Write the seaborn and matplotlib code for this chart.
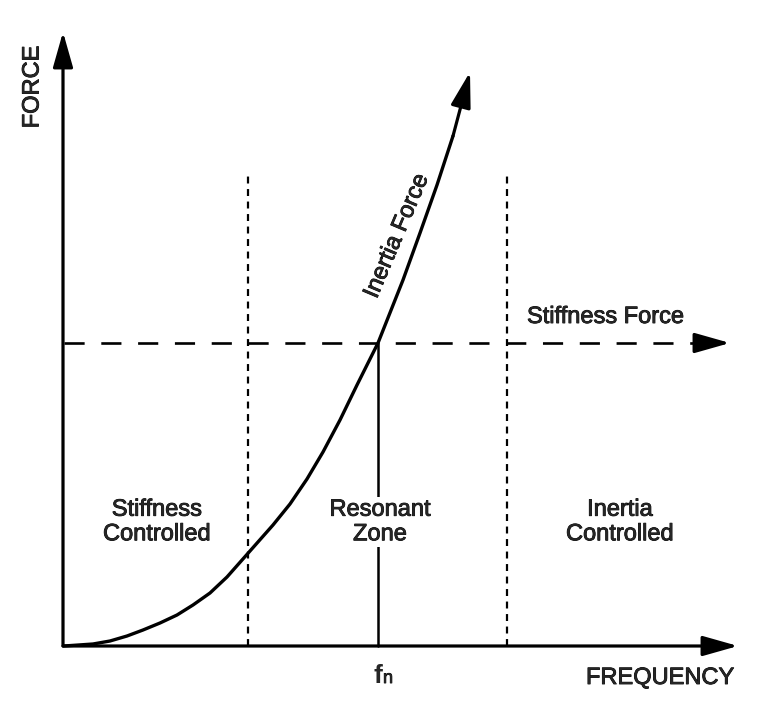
import numpy as np
import matplotlib
matplotlib.use('Agg')
import matplotlib.pyplot as plt
import matplotlib.patheffects as pe
import seaborn as sns

# inertia force curve (frequency, force)
freq = [0, 0.29, 0.46, 0.63, 0.79, 0.96, 1.13, 1.29, 1.46, 1.63, 1.86, 2.09, 2.26,
        2.43, 2.59, 2.76, 2.93, 3.14, 3.39, 3.56, 3.73, 3.89, 4.06]
force = [0, 0.02, 0.05, 0.10, 0.16, 0.23, 0.31, 0.41, 0.53, 0.69, 0.95, 1.21, 1.42,
         1.67, 1.94, 2.26, 2.61, 3.03, 3.66, 4.13, 4.61, 5.10, 5.74]

stiffness_force = 3.03
f_n = 3.14
zone_edges = [1.84, 4.43]
zone_top = 4.74
x_end = 6.74
y_end = 6.14

zone_labels = ['Stiffness\nControlled', 'Resonant\nZone', 'Inertia\nControlled']
zone_centers = [0.93, 3.16, 5.56]

sns.set_style('white')
plt.rcParams['font.family'] = ['Liberation Sans', 'DejaVu Sans']
plt.rcParams['lines.scale_dashes'] = False

fig = plt.figure(figsize=(7.68, 7.17), dpi=100)
ax = fig.add_axes([0, 0, 1, 1])
ax.set_xlim(-0.64, 7.04)
ax.set_ylim(-0.71, 6.46)
ax.axis('off')

head = dict(arrowstyle='-|>,head_length=0.6,head_width=0.17', mutation_scale=36,
            color='black', lw=2.3, shrinkA=0, shrinkB=0)

# axes with arrows
ax.annotate('', xy=(-0.01, y_end), xytext=(-0.01, 0), arrowprops=head)
ax.annotate('', xy=(x_end, 0), xytext=(-0.01, 0), arrowprops=head)

# zone borders (dotted)
for xe in zone_edges:
    ax.plot([xe, xe], [0, zone_top], color='black', lw=1.6, linestyle=(0, (5, 4)))

# stiffness force (dashed)
ax.plot([0, x_end - 0.2], [stiffness_force, stiffness_force], color='black', lw=1.9,
        linestyle=(0, (14.5, 12)))
ax.annotate('', xy=(x_end - 0.08, stiffness_force), xytext=(x_end - 0.3, stiffness_force),
            arrowprops=head)

# natural frequency
ax.plot([f_n, f_n], [0, stiffness_force], color='black', lw=1.8)

# inertia force curve
sns.lineplot(x=freq[:-1], y=force[:-1], ax=ax, color='black', lw=2.4, sort=False)
ax.annotate('', xy=(freq[-1], force[-1]), xytext=(freq[-2], force[-2]), arrowprops=head)

fs = 17
bold = [pe.withStroke(linewidth=0.6, foreground='black')]
for lab, xc in zip(zone_labels, zone_centers):
    ax.text(xc, 1.24, lab, ha='center', va='center', fontsize=fs, linespacing=1.15,
            bbox=dict(facecolor='white', edgecolor='none', pad=1), path_effects=bold)

ax.text(4.63, 3.29, 'Stiffness Force', ha='left', va='center', fontsize=fs, path_effects=bold)
ax.text(3.33, 4.10, 'Inertia Force', ha='center', va='center', fontsize=fs,
        rotation=67, rotation_mode='anchor', path_effects=bold)
ax.text(-0.315, 5.59, 'FORCE', ha='center', va='center', fontsize=fs, rotation=90,
        path_effects=bold)
ax.text(5.96, -0.32, 'FREQUENCY', ha='center', va='center', fontsize=fs, path_effects=bold)
ax.text(f_n + 0.04, -0.37, 'f', ha='right', va='baseline', fontsize=19, fontweight='bold')
ax.text(f_n + 0.05, -0.37, 'n', ha='left', va='baseline', fontsize=13, path_effects=bold)

fig.savefig('out.png', dpi=100)
